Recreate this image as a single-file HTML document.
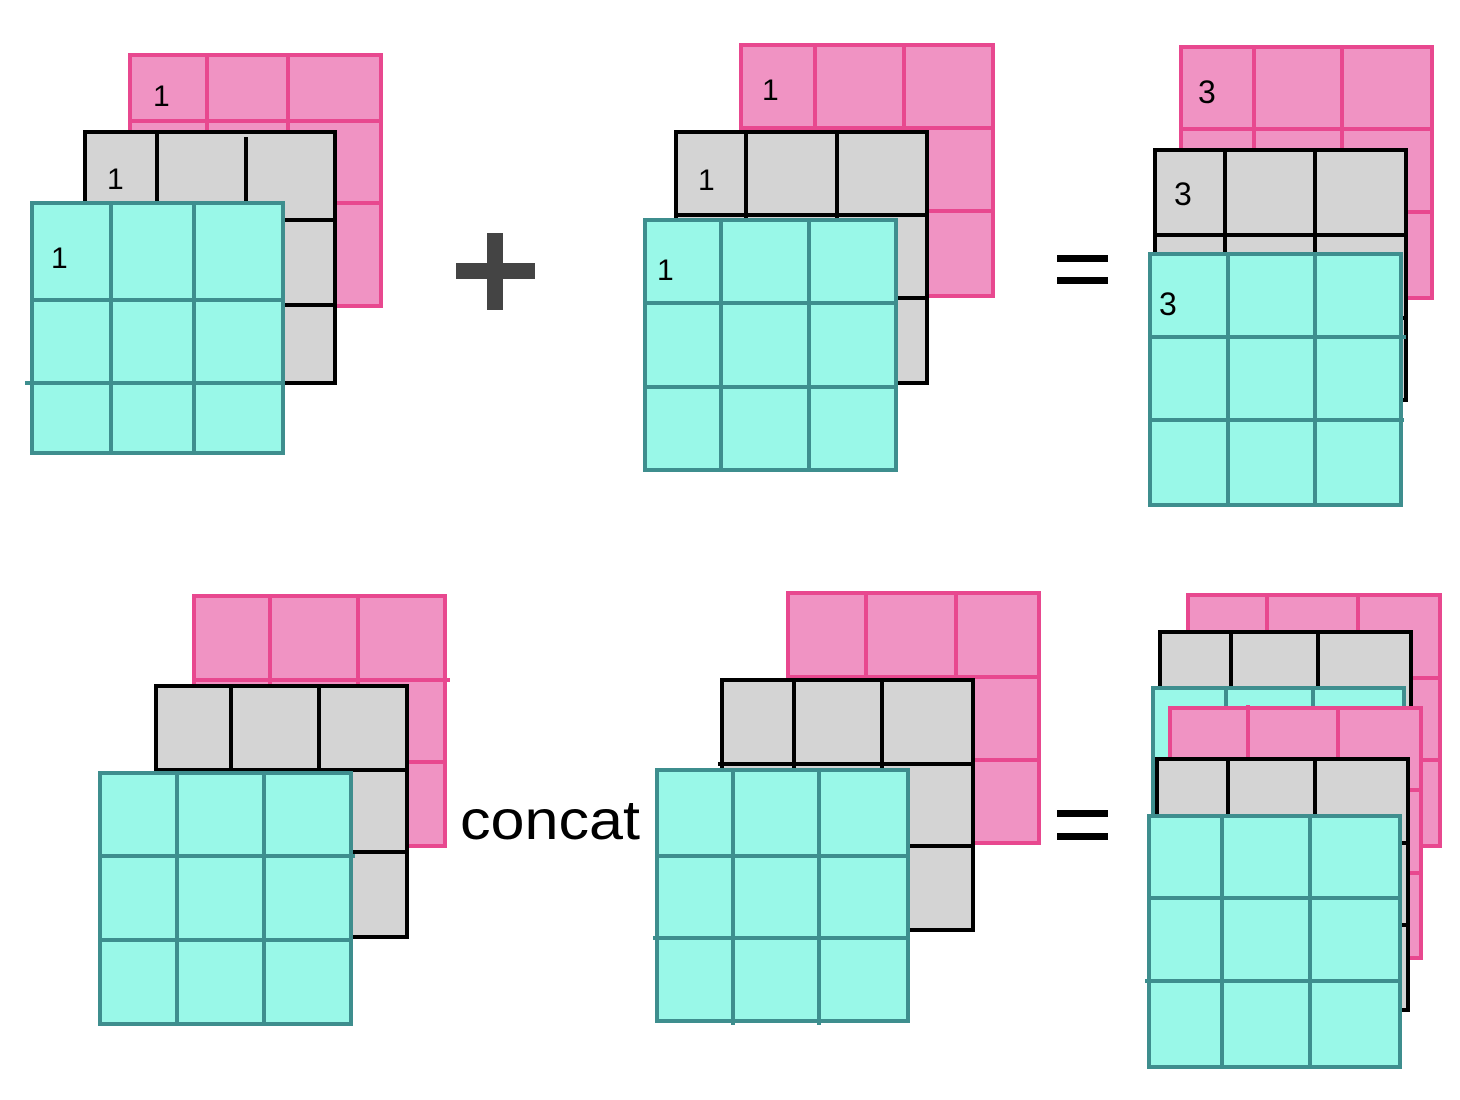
<!DOCTYPE html>
<html><head><meta charset="utf-8"><style>
html,body{margin:0;padding:0;background:#fff;}
svg{display:block;}
.p rect,.p line{stroke:#e8488f;}
.p rect{fill:#f093c3;}
.g rect,.g line{stroke:#000;}
.g rect{fill:#d4d4d4;}
.c rect,.c line{stroke:#3e8e8e;}
.c rect{fill:#99f8e8;}
rect,line{stroke-width:4;}
text{font-family:"Liberation Sans",sans-serif;fill:#000;}
</style></head><body>
<svg width="1460" height="1100" viewBox="0 0 1460 1100">
<g class="p"><rect x="130" y="55" width="251" height="251"/><line x1="207" y1="55" x2="207" y2="306"/><line x1="288" y1="55" x2="288" y2="306"/><line x1="130" y1="121" x2="381" y2="121"/><line x1="130" y1="203" x2="381" y2="203"/></g>
<text x="153" y="106" font-size="30">1</text>
<g class="g"><rect x="85" y="132" width="250" height="251"/><line x1="157" y1="132" x2="157" y2="383"/><line x1="246" y1="137" x2="246" y2="383"/><line x1="85" y1="220" x2="335" y2="220"/><line x1="85" y1="305" x2="335" y2="305"/></g>
<text x="107" y="189" font-size="30">1</text>
<g class="c"><rect x="32" y="203" width="251" height="250"/><line x1="111" y1="203" x2="111" y2="453"/><line x1="194" y1="203" x2="194" y2="453"/><line x1="32" y1="300" x2="285" y2="300"/><line x1="25" y1="383" x2="283" y2="383"/></g>
<text x="51" y="268" font-size="30">1</text>
<rect x="456" y="263" width="79" height="16" fill="#444" stroke="none"/>
<rect x="487" y="233" width="16" height="77" fill="#444" stroke="none"/>
<g class="p"><rect x="741" y="45" width="252" height="251"/><line x1="815" y1="45" x2="815" y2="296"/><line x1="904" y1="45" x2="904" y2="296"/><line x1="741" y1="128" x2="993" y2="128"/><line x1="741" y1="211" x2="993" y2="211"/></g>
<text x="762" y="100" font-size="30">1</text>
<g class="g"><rect x="676" y="132" width="251" height="251"/><line x1="746" y1="132" x2="746" y2="383"/><line x1="837" y1="132" x2="837" y2="383"/><line x1="676" y1="215" x2="927" y2="215"/><line x1="676" y1="298" x2="927" y2="298"/></g>
<text x="698" y="190" font-size="30">1</text>
<g class="c"><rect x="645" y="220" width="251" height="250"/><line x1="721" y1="220" x2="721" y2="470"/><line x1="809" y1="220" x2="809" y2="470"/><line x1="645" y1="303" x2="896" y2="303"/><line x1="645" y1="387" x2="896" y2="387"/></g>
<text x="657" y="280" font-size="30">1</text>
<rect x="1057" y="255" width="51" height="7" fill="#000"/>
<rect x="1057" y="277" width="51" height="7" fill="#000"/>
<g class="p"><rect x="1181" y="47" width="251" height="251"/><line x1="1254" y1="47" x2="1254" y2="298"/><line x1="1342" y1="47" x2="1342" y2="298"/><line x1="1181" y1="129" x2="1432" y2="129"/><line x1="1181" y1="212" x2="1432" y2="212"/></g>
<text x="1198" y="103" font-size="32">3</text>
<g class="g"><rect x="1155" y="150" width="251" height="250"/><line x1="1225" y1="150" x2="1225" y2="400"/><line x1="1315" y1="150" x2="1315" y2="400"/><line x1="1155" y1="235" x2="1406" y2="235"/><line x1="1155" y1="318" x2="1406" y2="318"/></g>
<text x="1174" y="205" font-size="32">3</text>
<g class="c"><rect x="1150" y="254" width="251" height="251"/><line x1="1228" y1="254" x2="1228" y2="505"/><line x1="1315" y1="254" x2="1315" y2="505"/><line x1="1150" y1="337" x2="1406" y2="337"/><line x1="1150" y1="420" x2="1404" y2="420"/></g>
<text x="1159" y="315" font-size="32">3</text>
<g class="p"><rect x="194" y="596" width="251" height="250"/><line x1="270" y1="596" x2="270" y2="846"/><line x1="358" y1="596" x2="358" y2="846"/><line x1="194" y1="680" x2="450" y2="680"/><line x1="194" y1="762" x2="445" y2="762"/></g>
<g class="g"><rect x="156" y="686" width="251" height="251"/><line x1="231" y1="686" x2="231" y2="937"/><line x1="319" y1="686" x2="319" y2="937"/><line x1="156" y1="770" x2="407" y2="770"/><line x1="156" y1="852" x2="407" y2="852"/></g>
<g class="c"><rect x="100" y="773" width="251" height="251"/><line x1="177" y1="773" x2="177" y2="1024"/><line x1="264" y1="773" x2="264" y2="1024"/><line x1="100" y1="856" x2="355" y2="856"/><line x1="100" y1="940" x2="351" y2="940"/></g>
<text x="460" y="839" font-size="56" textLength="180" lengthAdjust="spacingAndGlyphs">concat</text>
<g class="p"><rect x="788" y="593" width="251" height="250"/><line x1="866" y1="593" x2="866" y2="843"/><line x1="956" y1="593" x2="956" y2="843"/><line x1="788" y1="677" x2="1039" y2="677"/><line x1="788" y1="760" x2="1039" y2="760"/></g>
<g class="g"><rect x="722" y="680" width="251" height="250"/><line x1="794" y1="680" x2="794" y2="930"/><line x1="882" y1="680" x2="882" y2="930"/><line x1="718" y1="764" x2="973" y2="764"/><line x1="722" y1="846" x2="973" y2="846"/></g>
<g class="c"><rect x="657" y="770" width="251" height="251"/><line x1="733" y1="770" x2="733" y2="1025"/><line x1="819" y1="770" x2="819" y2="1025"/><line x1="657" y1="856" x2="908" y2="856"/><line x1="653" y1="938" x2="908" y2="938"/></g>
<rect x="1057" y="810" width="51" height="7" fill="#000"/>
<rect x="1057" y="833" width="51" height="7" fill="#000"/>
<g class="p"><rect x="1188" y="595" width="252" height="251"/><line x1="1267" y1="595" x2="1267" y2="846"/><line x1="1358" y1="595" x2="1358" y2="846"/><line x1="1188" y1="678" x2="1440" y2="678"/><line x1="1188" y1="760" x2="1440" y2="760"/></g>
<g class="g"><rect x="1160" y="632" width="251" height="252"/><line x1="1231" y1="632" x2="1231" y2="884"/><line x1="1318" y1="632" x2="1318" y2="884"/><line x1="1160" y1="716" x2="1411" y2="716"/><line x1="1160" y1="800" x2="1411" y2="800"/></g>
<g class="c"><rect x="1153" y="688" width="251" height="252"/><line x1="1226" y1="688" x2="1226" y2="940"/><line x1="1313" y1="688" x2="1313" y2="940"/></g>
<g class="p"><rect x="1170" y="708" width="251" height="250"/><line x1="1248" y1="705" x2="1248" y2="958"/><line x1="1338" y1="708" x2="1338" y2="958"/><line x1="1170" y1="790" x2="1421" y2="790"/><line x1="1170" y1="873" x2="1421" y2="873"/></g>
<g class="g"><rect x="1157" y="759" width="251" height="251"/><line x1="1228" y1="759" x2="1228" y2="1010"/><line x1="1315" y1="759" x2="1315" y2="1010"/><line x1="1157" y1="843" x2="1408" y2="843"/><line x1="1157" y1="925" x2="1408" y2="925"/></g>
<g class="c"><rect x="1149" y="816" width="251" height="251"/><line x1="1222" y1="816" x2="1222" y2="1067"/><line x1="1310" y1="816" x2="1310" y2="1067"/><line x1="1149" y1="898" x2="1400" y2="898"/><line x1="1145" y1="981" x2="1400" y2="981"/></g>
</svg>
</body></html>
